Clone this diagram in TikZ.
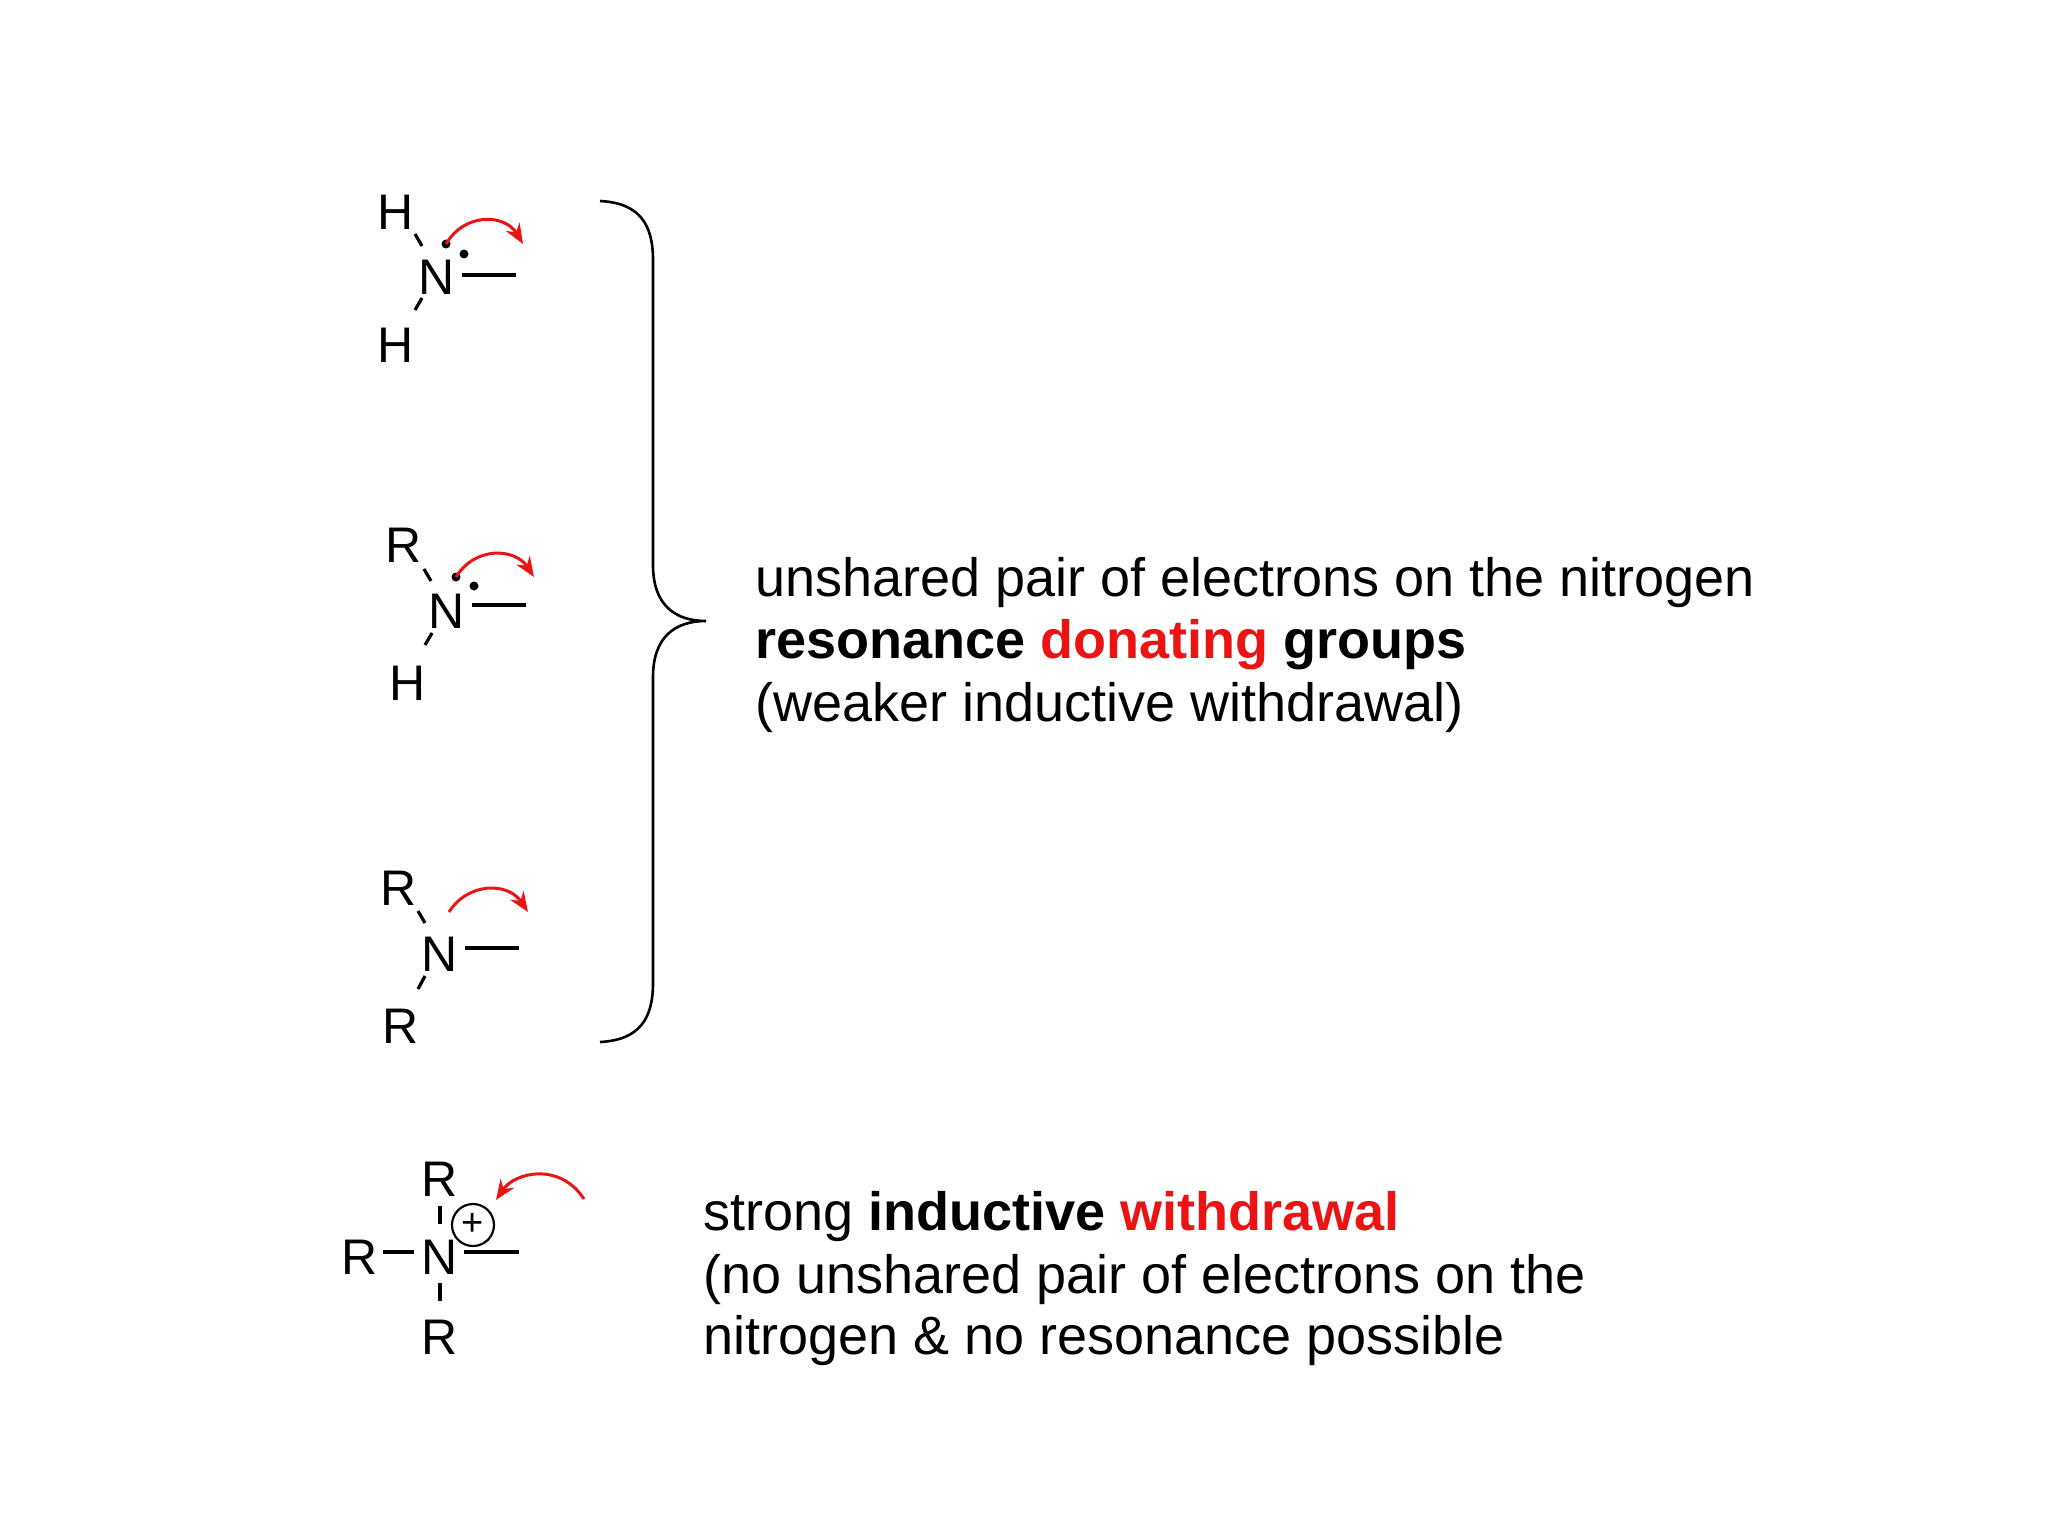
\documentclass[tikz,border=0pt]{standalone}
\usepackage{fontspec}
\setmainfont{Liberation Sans}
\usetikzlibrary{arrows.meta}
\definecolor{rd}{RGB}{235,20,20}
\begin{document}
\begin{tikzpicture}[x=1pt,y=-1pt,
  atom/.style={font=\fontsize{50}{50}\selectfont,inner sep=0pt,anchor=center,yshift=-7pt},
  bnd/.style={line width=3.2pt},
  arr/.style={rd,line width=3pt,-{Stealth[length=20pt,width=16pt]}},
  dot/.style={circle,fill=black,inner sep=0pt,minimum size=9pt},
  txt/.style={font=\fontsize{54}{63}\selectfont,anchor=base west,inner sep=0pt}]
\useasboundingbox (0,0) rectangle (2048,1536);
% molecule 1
\node[atom] (h1) at (396,205) {H};
\node[atom] (n1) at (437,270) {N};
\node[atom] (h2) at (396,338) {H};
\draw[bnd] (415,234) -- (422,246);
\draw[bnd] (422,298) -- (415,310);
\coordinate (b1a) at (462,275); \coordinate (b1b) at (516,275);
\draw[bnd] (b1a) -- (b1b);
\node[dot] (d1) at (446,244) {}; \node[dot] (d2) at (464,254) {};
\coordinate (a1e) at (523,244);
\draw[arr] (d1.center) .. controls (465,212) and (505,214) .. (a1e);
% molecule 2
\node[atom] (r1) at (404,538) {R};
\node[atom] (n2) at (447,604) {N};
\node[atom] (h3) at (408,676) {H};
\draw[bnd] (424,569) -- (431,581);
\draw[bnd] (432,633) -- (425,645);
\coordinate (b2a) at (472,605); \coordinate (b2b) at (526,605);
\draw[bnd] (b2a) -- (b2b);
\node[dot] (d3) at (456,577) {}; \node[dot] (d4) at (474,586) {};
\coordinate (a2e) at (534,577);
\draw[arr] (d3.center) .. controls (475,546) and (515,548) .. (a2e);
% molecule 3
\node[atom] (r2) at (399,881) {R};
\node[atom] (n3) at (440,947) {N};
\node[atom] (r3) at (401,1019) {R};
\draw[bnd] (418,911) -- (425,923);
\draw[bnd] (425,976) -- (418,989);
\coordinate (b3a) at (465,948); \coordinate (b3b) at (519,948);
\draw[bnd] (b3a) -- (b3b);
\coordinate (a3s) at (449,912); \coordinate (a3e) at (528,912);
\draw[arr] (a3s) .. controls (468,882) and (508,882) .. (a3e);
% molecule 4
\node[atom] (r4) at (440,1172) {R};
\node[atom] (n4) at (440,1250) {N};
\node[atom] (r5) at (360,1250) {R};
\node[atom] (r6) at (440,1330) {R};
\draw[bnd] (440,1206) -- (440,1224);
\draw[bnd] (440,1283) -- (440,1301);
\draw[bnd] (383,1252) -- (414,1252);
\coordinate (b4a) at (464,1252); \coordinate (b4b) at (519,1252);
\draw[bnd] (b4a) -- (b4b);
\node[circle,draw,line width=2.2pt,minimum size=42pt,inner sep=0pt,font=\fontsize{38}{38}\selectfont] (plus) at (473,1225) {+};
\coordinate (a4s) at (584,1199); \coordinate (a4e) at (496,1200);
\draw[arr] (a4s) .. controls (560,1162) and (515,1172) .. (a4e);
% brace
\coordinate (bt) at (600,201); \coordinate (bb) at (600,1042); \coordinate (bm) at (706,621);
\draw[line width=2.6pt] (bt) .. controls (640,203) and (653,225) .. (653,260)
  -- (653,565) .. controls (653,605) and (675,621) .. (bm)
  (bm) .. controls (675,621) and (653,637) .. (653,677)
  -- (653,983) .. controls (653,1018) and (640,1040) .. (bb);
% texts
\node[txt] (t1) at (755,596) {unshared pair of electrons on the nitrogen};
\node[txt] (t2) at (755,658) {\bfseries resonance \textcolor{rd}{donating} groups};
\node[txt] (t3) at (755,721) {(weaker inductive withdrawal)};
\node[txt] (t4) at (703,1230) {strong \textbf{inductive \textcolor{rd}{withdrawal}}};
\node[txt] (t5) at (703,1293) {(no unshared pair of electrons on the};
\node[txt] (t6) at (703,1354) {nitrogen \& no resonance possible};
\end{tikzpicture}
\end{document}
